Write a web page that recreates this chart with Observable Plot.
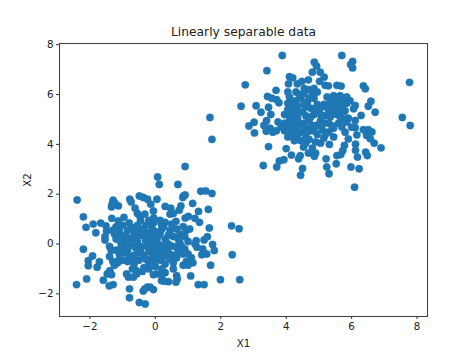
<!DOCTYPE html>
<html><head><meta charset="utf-8">
<script src="https://cdn.jsdelivr.net/npm/d3@7"></script>
<script src="https://cdn.jsdelivr.net/npm/@observablehq/plot@0.6"></script>
<style>html,body{margin:0;padding:0;background:#fff}svg{display:block}</style>
</head><body><div id="c"></div>
<script>
const titleText = "Linearly separable data";
const xLabel = "X1", yLabel = "X2";
const xTicks = [-2,0,2,4,6,8], yTicks = [-2,0,2,4,6,8];
// cluster around (0,0), outer points
const clusterAOuter = [[0.91,3.11],[0.07,2.69],[0.12,2.39],[0.69,2.39],[0.91,1.97],[0.86,1.93],[0.84,1.87],[1.39,2.12],[1.54,2.13],[1.73,2.03],[-2.39,1.77],[-1.29,1.76],[-1.32,1.6],[-1.34,1.49],[-1.13,1.53],[-1.23,1.63],[-0.78,1.8],[-0.74,1.69],[-0.49,1.93],[-0.37,1.87],[-0.24,1.8],[-0.14,1.6],[0.05,1.8],[0.3,1.51],[0.47,1.44],[0.78,1.53],[0.73,1.36],[1.14,1.63],[1.32,1.31],[1.62,1.39],[-0.62,1.44],[-0.55,1.23],[-0.47,1.11],[-0.32,1.2],[-0.06,1.33],[0.45,1.2],[0.55,1.23],[-2.2,1.09],[-1.9,0.8],[-2.12,0.67],[-1.82,0.45],[-1.67,0.84],[-1.51,0.73],[-1.49,0.51],[-1.54,0.29],[-1.54,0.16],[-1.33,1.03],[-0.96,1.07],[-1.13,0.93],[0.91,1.04],[1.01,1.11],[1.21,1.03],[1.35,0.87],[1.65,0.64],[0.63,0.91],[0.3,0.87],[0.19,0.77],[1.25,0.13],[1.21,0],[1.49,0.16],[1.59,0.29],[1.75,-0.02],[1.8,-0.26],[1.57,-0.4],[1.42,-0.43],[1.45,-0.2],[1.27,-0.13],[2.33,0.73],[2.56,0.61],[2.35,-0.43],[2.58,-1.43],[1.99,-1.43],[1.69,-0.85],[1.08,-1.28],[1.31,-1.63],[1.49,-1.63],[0.65,-1.27],[0.67,-1.4],[0.63,-1.53],[0.4,-1.51],[0.19,-1.47],[0.27,-1.49],[0.04,-1.2],[-0.06,-1.23],[-2.2,-0.21],[-1.92,-0.48],[-2.05,-0.67],[-2.05,-0.87],[-1.71,-0.71],[-1.78,-0.93],[-2.1,-1.4],[-2.41,-1.63],[-1.59,-1.45],[-1.41,-1.68],[-1.29,-1.63],[-1.47,-1.2],[-1.39,-1.07],[-1.34,-1.23],[-0.79,-1.8],[-0.79,-2.16],[-0.49,-2.35],[-0.31,-2.41],[-0.37,-1.89],[-0.24,-1.73],[-0.16,-1.73],[-0.06,-1.83],[-0.32,-1.8],[-0.88,-1.2],[-0.82,-1.33],[-0.67,-1.33],[-0.57,-1.2]];
// cluster around (0,0), dense centre
const clusterADense = [[-1.2,0.7],[-1.1,0.5],[-1.05,0.3],[-1.2,0.2],[-0.95,0.1],[-1.15,0.6],[-0.85,0.55],[-0.7,0.65],[-0.65,0.4],[-0.75,0.2],[-0.55,0.1],[-0.45,0.35],[-0.4,0.6],[-0.3,0.75],[-0.2,0.95],[-0.15,0.8],[-0.1,0.6],[-0.05,1.05],[-0.25,0.45],[-0.1,0.3],[0,0.5],[0.05,0.2],[0.15,0.45],[0.3,0.2],[0.45,0.55],[0.55,0.3],[0.65,0.6],[0.75,0.4],[0.85,0.7],[0.95,0.55],[1.05,0.6],[0.9,0.3],[1,0.1],[0.75,0.05],[0.6,-0.1],[0.45,-0.05],[0.3,-0.2],[0.15,-0.05],[0,-0.1],[-0.15,0.05],[-0.3,0.15],[-0.45,-0.1],[-0.6,-0.15],[-0.75,-0.05],[-0.9,-0.1],[-1.05,-0.15],[-1.2,-0.25],[-1.35,-0.25],[-1.1,-0.4],[-0.95,-0.35],[-0.8,-0.5],[-0.65,-0.45],[-0.5,-0.35],[-0.35,-0.45],[-0.2,-0.3],[-0.05,-0.4],[0.1,-0.35],[0.25,-0.5],[0.4,-0.35],[0.55,-0.45],[0.7,-0.3],[0.9,-0.2],[1,-0.4],[1.1,-0.55],[0.95,-0.7],[0.85,-0.85],[1,-0.85],[1.15,-0.75],[0.55,-0.75],[0.55,-1],[0.3,-0.8],[0.15,-0.65],[0.2,-1],[0,-0.9],[-0.05,-0.7],[-0.2,-0.75],[-0.35,-0.95],[-0.5,-0.65],[-0.65,-0.8],[-0.7,-1],[-0.85,-0.7],[-1,-0.65],[-1.15,-0.75],[-1.3,-0.7],[-1.4,-0.5],[-1.25,-0.85],[0.3,-1.15],[0.2,-1.25],[-0.4,-1.1],[-0.6,-1.05],[0.05,0.05],[-0.55,0.75],[-0.3,0.25],[-0.2,0.15],[0.2,0.6],[0.35,0.05],[0.1,-0.2],[-0.1,-0.15],[-0.9,0.35],[-0.8,0.85],[-0.45,0.95],[-0.05,0.85],[0.15,0.95],[0.25,0.7],[0.4,0.35],[0.5,0.8],[0.7,0.2],[0.8,-0.1],[0.65,-0.55],[0.45,-0.6],[0.2,-0.3],[-0.1,-0.55],[-0.3,-0.6],[-0.45,-0.2],[-0.6,0.25],[-0.85,-0.25],[-1.05,0.05],[-0.25,-0.1],[0.1,0.35],[-0.05,0.15],[0.4,-0.15],[0.85,-0.4],[-0.15,0.4],[-0.35,0.5],[-0.55,0.55],[-0.65,-0.65],[-0.2,-1],[0.05,-0.55],[-1.25,0.4],[-1.3,0.55],[-1,0.75],[-1.1,-0.6],[-1.4,-0.1]];
// cluster around (5,5), outer points
const clusterBOuter = [[3.88,7.57],[5.7,7.57],[6.03,7.33],[5.97,7.21],[6.03,7.07],[3.41,6.96],[4.86,7.3],[4.93,7.14],[4.8,6.9],[5.04,6.9],[5.16,6.7],[4.1,6.72],[4.2,6.67],[2.75,6.39],[7.77,6.49],[6.36,6.35],[6.42,6.23],[3.69,6.17],[4.07,6.43],[4.34,6.43],[4.48,6.53],[4.68,6.59],[5.02,6.53],[5.19,6.37],[5.29,6.35],[5.55,6.37],[5.68,6.34],[3.43,5.92],[3.56,5.85],[3.71,5.79],[3.78,5.67],[2.62,5.53],[3.08,5.55],[3.46,5.49],[3.23,5.29],[3.53,5.2],[6.59,5.73],[6.51,5.53],[6.72,5.29],[6.29,5.16],[6.11,5.56],[6.06,5.43],[7.55,5.08],[7.79,4.76],[3.02,4.89],[2.86,4.74],[3.03,4.46],[3.32,4.76],[3.4,4.95],[3.51,4.65],[3.39,4.53],[3.59,4.49],[3.46,3.91],[4,3.83],[4.16,3.57],[4.38,3.42],[4.43,3.55],[4.86,3.52],[4.68,3.65],[4.53,3.89],[3.3,3.15],[3.71,3.09],[3.79,3.33],[3.93,3.38],[4.5,3.03],[4.44,2.76],[5.24,3.09],[5.22,3.42],[5.31,2.82],[5.53,3.22],[5.55,3.55],[5.67,3.59],[5.73,3.75],[5.78,3.96],[5.98,3.09],[6.23,3.02],[6.09,2.28],[6.18,3.49],[6.12,3.76],[6.12,4.01],[6.43,3.69],[6.48,3.55],[6.9,3.86],[6.69,4.05],[6.57,4.23],[6.46,4.36],[6.62,4.5],[6.51,4.59],[6.36,4.59],[6.16,4.38],[6.11,4.67],[6,4.69],[6.11,4.96],[5.8,4.49],[5.9,4.22],[5.45,4.3],[5.32,4]];
const clusterBDense = [[4.05,6.1],[4.1,5.9],[4.05,5.65],[4.15,5.4],[4.1,5.15],[4.2,4.95],[4.3,6.1],[4.45,5.85],[4.35,5.55],[4.5,5.3],[4.35,5.05],[4.55,4.85],[4.7,6.2],[4.8,5.95],[4.65,5.7],[4.75,5.45],[4.85,5.2],[4.7,4.95],[4.9,4.75],[4.95,6.1],[5.1,5.5],[5.15,5.6],[5,5.4],[5.2,5.15],[5.05,4.95],[5.3,4.85],[5.35,5.7],[5.45,5.95],[5.4,5.45],[5.55,5.2],[5.6,5.75],[5.7,5.55],[5.65,5.95],[5.85,5.9],[5.95,5.75],[5.8,5.35],[5.75,5],[5.6,4.85],[5.9,5.05],[5.85,5.65],[3.75,4.9],[3.85,4.7],[3.95,4.55],[3.7,4.55],[4.15,4.75],[4.3,4.6],[4.05,4.3],[4.25,4.3],[4.45,4.5],[4.6,4.35],[4.75,4.55],[4.95,4.4],[5.1,4.6],[5.3,4.5],[5.15,4.25],[4.9,4.1],[4.7,4.2],[4.6,4.05],[4.8,3.85],[4.9,3.65],[4.45,4.15],[4.25,4.15],[5.05,4.05],[5.45,4.65],[4.05,4.7],[3.95,4.85],[4.6,5.5],[4.95,5.6],[4.6,5.15],[5.35,5.1],[5.5,5.5],[5.25,5.9],[4.3,5.75],[4.55,6.05],[5.75,5.3],[4.2,5.2],[5,4.8],[4.85,5.85],[4.2,5.65],[4.25,5.3],[4.4,5.3],[4.45,4.8],[4.8,4.75],[5.15,4.85],[5.4,4.75],[5.55,5.4],[5.65,5.1],[5.3,5.3],[5.25,5.5],[5.45,5.25],[4.9,5.4],[5.05,5.2],[4.75,5.1],[4.55,5.6],[4.7,5.85],[4.4,6],[4.55,6.25],[4.85,6.25],[5.35,5.85],[5.55,5.85],[5.75,5.75],[5.45,5.6],[4.15,4.55],[4.35,4.4],[4.6,4.65],[4.85,4.55],[5.2,4.4],[4.1,4.95],[3.95,5.2],[4.05,5.4],[4.3,4.85],[5.7,4.7],[5.85,4.9]];
const midPoints = [[1.67,5.08],[1.73,4.2]];
const points = [...clusterAOuter, ...clusterADense, ...clusterBOuter, ...clusterBDense, ...midPoints];

const chart = Plot.plot({
  width: 474, height: 355,
  marginLeft: 59, marginRight: 47, marginTop: 43, marginBottom: 39,
  style: {background: "#fff", fontFamily: "DejaVu Sans", fontSize: "10.3px", color: "#222"},
  x: {domain: [-2.93, 8.32], label: null},
  y: {domain: [-2.91, 8.05], label: null},
  marks: [
    Plot.dot(points, {x: d => d[0], y: d => d[1], r: 3.7, fill: "#1f77b4", stroke: "#1f77b4", strokeWidth: 0.4}),
    Plot.frame({stroke: "#444", strokeWidth: 1.1}),
    Plot.axisX({ticks: xTicks, tickSize: 3, tickPadding: 3, stroke: "#333", fontSize: 10.3, label: xLabel, labelAnchor: "center", labelArrow: "none", labelOffset: 30, fill: "#222"}),
    Plot.axisY({ticks: yTicks, tickSize: 3, tickPadding: 3, stroke: "#333", fontSize: 10.3, label: yLabel, labelAnchor: "center", labelArrow: "none", labelOffset: 36, fill: "#222"}),
    Plot.text([titleText], {frameAnchor: "top", dy: -16, fontSize: 12.3, fill: "#222", text: d => d})
  ]
});
document.getElementById("c").append(chart);
</script></body></html>
